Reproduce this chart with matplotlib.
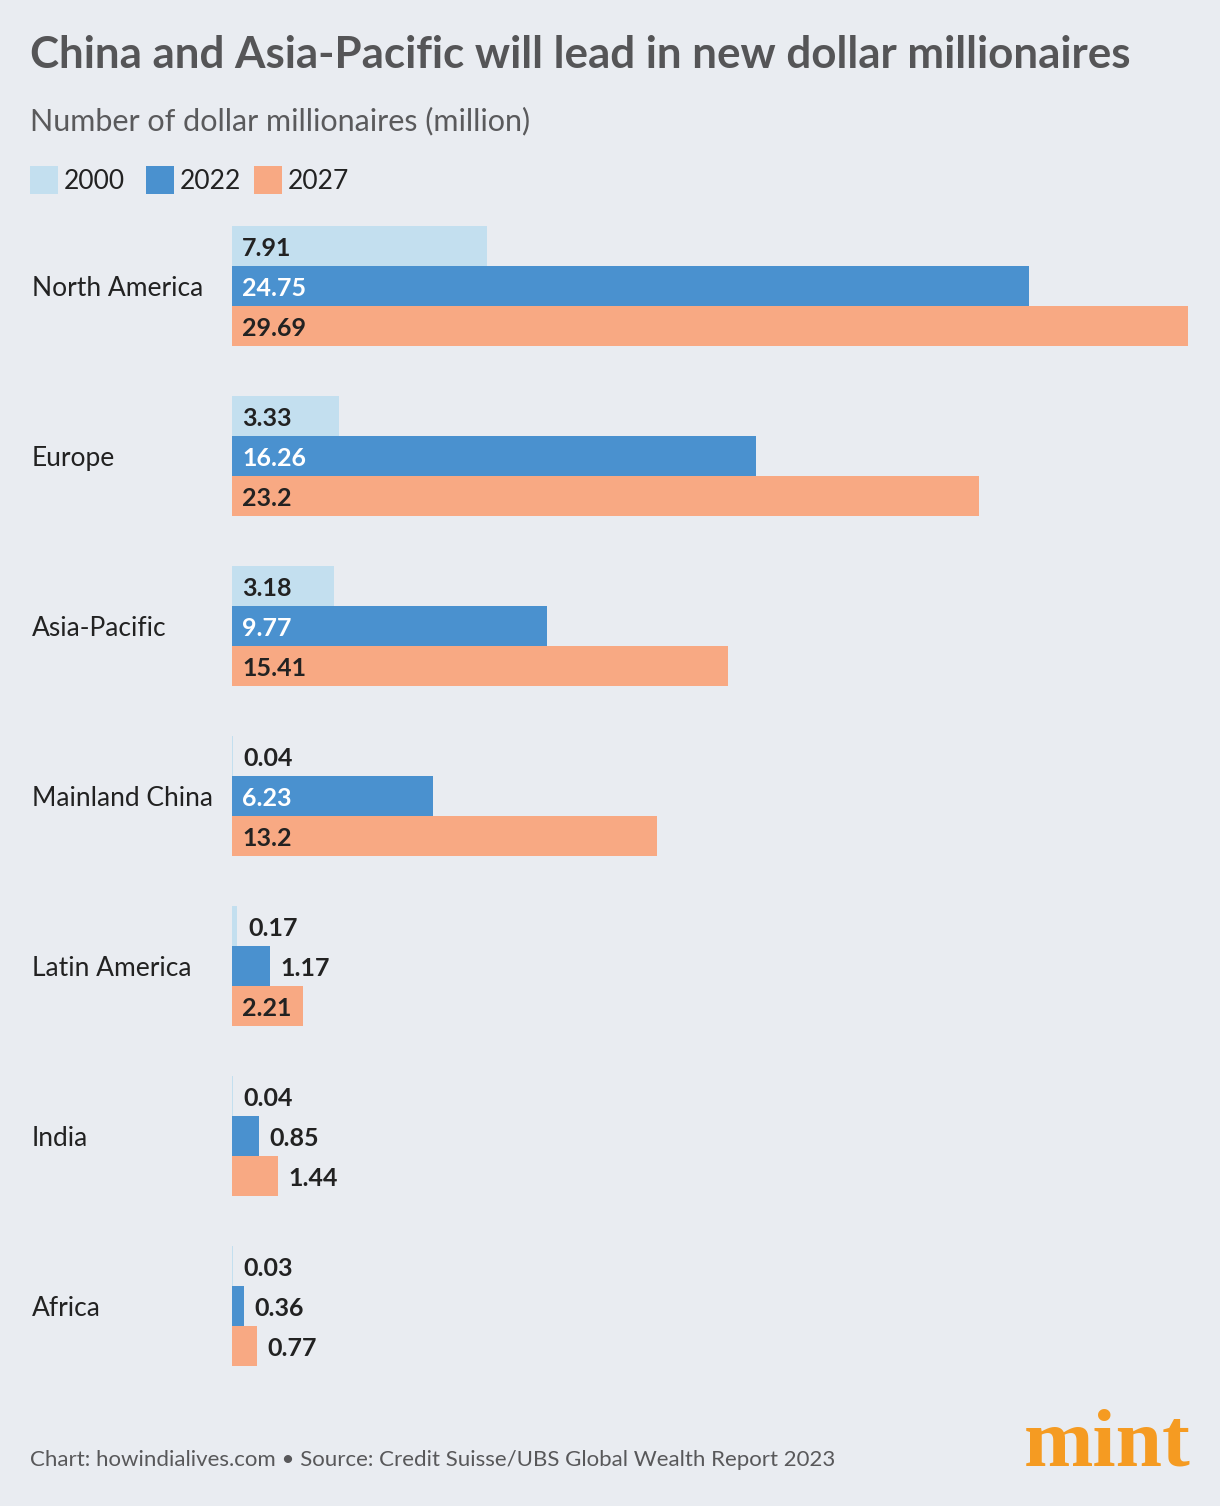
import matplotlib.pyplot as plt
from matplotlib.patches import Rectangle
from matplotlib.transforms import blended_transform_factory

# data
regions = ['North America', 'Europe', 'Asia-Pacific', 'Mainland China',
           'Latin America', 'India', 'Africa']
years = ['2000', '2022', '2027']
v2000 = [7.91, 3.33, 3.18, 0.04, 0.17, 0.04, 0.03]
v2022 = [24.75, 16.26, 9.77, 6.23, 1.17, 0.85, 0.36]
v2027 = [29.69, 23.2, 15.41, 13.2, 2.21, 1.44, 0.77]

bg = '#e9ecf1'
colors = ['#c3dfef', '#4a91cf', '#f8a983']
label_colors = ['#222222', '#ffffff', '#222222']

W, H = 1220, 1506
fig = plt.figure(figsize=(W / 100, H / 100), dpi=100, facecolor=bg)
plt.rcParams['font.family'] = ['Lato', 'DejaVu Sans']


def fx(px):
    return px / W


def fy(py):
    return 1 - py / H


# axes spans pixel x 232..1188, y 200..1400
ax = fig.add_axes([fx(232), fy(1400), fx(1188) - fx(232), fy(200) - fy(1400)])
ax.set_facecolor(bg)
for s in ax.spines.values():
    s.set_visible(False)
ax.set_xticks([])
ax.set_yticks([])

step = 170.0
bar_h = 40 / step
ax.set_xlim(0, 29.69)
ax.set_ylim((1400 - 286) / step, (200 - 286) / step)

series = [v2000, v2022, v2027]
for j, vals in enumerate(series):
    ys = [i + (j - 1) * bar_h for i in range(len(regions))]
    ax.barh(ys, vals, height=bar_h, color=colors[j], linewidth=0)
    for y, v in zip(ys, vals):
        txt = f'{v:g}'
        if v > 2:
            ax.annotate(txt, (0, y), xytext=(7.2, 0), textcoords='offset points',
                        ha='left', va='center_baseline', fontsize=18, fontweight='bold',
                        color=label_colors[j])
        else:
            ax.annotate(txt, (v, y), xytext=(7.5, 0), textcoords='offset points',
                        ha='left', va='center_baseline', fontsize=18, fontweight='bold',
                        color='#222222')

trans = blended_transform_factory(fig.transFigure, ax.transData)
for i, r in enumerate(regions):
    ax.text(fx(32), i, r, transform=trans, ha='left', va='center_baseline',
            fontsize=19, color='#222222')

# title, subtitle
fig.text(fx(30), fy(68), 'China and Asia-Pacific will lead in new dollar millionaires',
         ha='left', va='baseline', fontsize=31.6, fontweight='bold', color='#555557')
fig.text(fx(30), fy(130), 'Number of dollar millionaires (million)',
         ha='left', va='baseline', fontsize=22, color='#5a5a5c')

# legend
lx = [30, 146, 254]
for x, c, lab in zip(lx, colors, years):
    fig.patches.append(Rectangle((fx(x), fy(194)), fx(28), 28 / H,
                                 transform=fig.transFigure, color=c, linewidth=0))
    fig.text(fx(x + 34), fy(189), lab, ha='left', va='baseline',
             fontsize=19, color='#222222')

# footer
fig.text(fx(30), fy(1466),
         'Chart: howindialives.com \u2022 Source: Credit Suisse/UBS Global Wealth Report 2023',
         ha='left', va='baseline', fontsize=16, color='#58585a')
fig.text(fx(1190), fy(1466), 'mint', ha='right', va='baseline',
         fontsize=60, fontweight='bold', family='Liberation Serif', color='#f59b22')

fig.savefig('out.png', dpi=100, facecolor=bg)
